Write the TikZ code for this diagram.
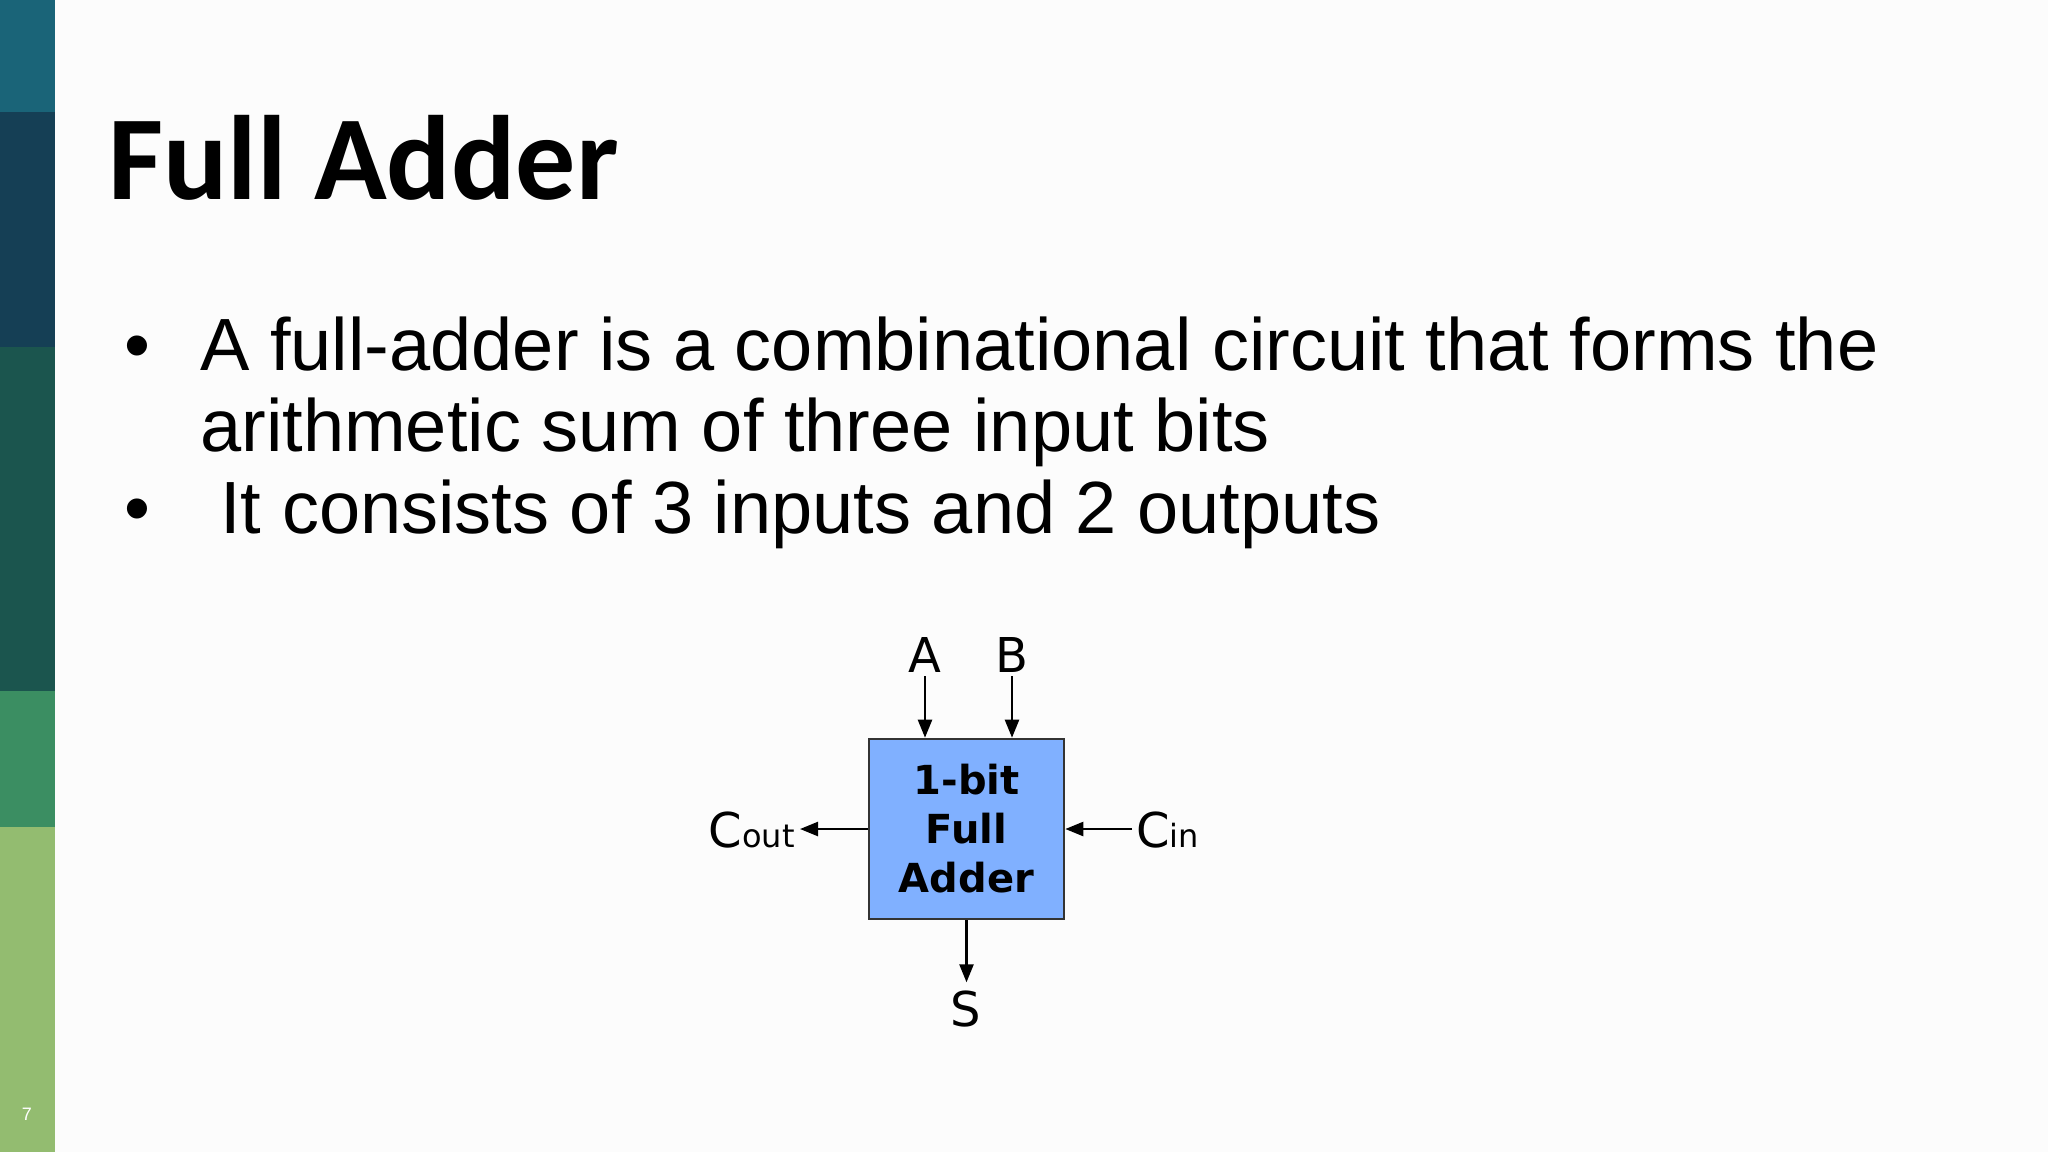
\documentclass[tikz,border=0pt]{standalone}
\usepackage{fontspec}
\setmainfont{Liberation Sans}
\newfontfamily\titlefont{Carlito}
\newfontfamily\dvs{DejaVu Sans}
\usetikzlibrary{arrows.meta}
\definecolor{bandA}{HTML}{1A6478}
\definecolor{bandB}{HTML}{153F55}
\definecolor{bandC}{HTML}{1B554E}
\definecolor{bandD}{HTML}{3B8E62}
\definecolor{bandE}{HTML}{93BC70}
\definecolor{boxblue}{HTML}{80B0FF}
\begin{document}
\begin{tikzpicture}[x=0.5pt,y=-0.5pt,
  txt/.style={inner sep=0pt,anchor=base west,font=\fontsize{37}{44}\selectfont},
  lbl/.style={inner sep=0pt,font=\dvs\fontsize{24}{28}\selectfont},
  wire/.style={line width=1.2pt,-{Triangle[length=9pt,width=7pt]}}]
\useasboundingbox (0,0) rectangle (2048,1152);
\fill[white!98!gray] (0,0) rectangle (2048,1152);
\fill[bandA] (0,0) rectangle (55,112);
\fill[bandB] (0,112) rectangle (55,347);
\fill[bandC] (0,347) rectangle (55,691);
\fill[bandD] (0,691) rectangle (55,827);
\fill[bandE] (0,827) rectangle (55,1152);
\node[text=white,inner sep=0pt,font=\fontsize{9}{10}\selectfont] (pg) at (27,1114) {7};
\node[inner sep=0pt,anchor=base west,font=\titlefont\bfseries\fontsize{60}{70}\selectfont] (title) at (108,199) {Full Adder};
\node[txt] (b1) at (124,370) {\textbullet};
\node[txt] (t1) at (200,370) {A full-adder is a combinational circuit that forms the};
\node[txt] (t2) at (200,451) {arithmetic sum of three input bits};
\node[txt] (b2) at (124,533) {\textbullet};
\node[txt] (t3) at (220,533) {It consists of 3 inputs and 2 outputs};
% diagram
\node[draw=black!80,line width=1.3pt,fill=boxblue,minimum width=97.5pt,minimum height=90pt,inner sep=0pt,
  align=center,font=\dvs\bfseries\fontsize{20}{24.5}\selectfont] (fa) at (966.5,829) {1-bit\\Full\\Adder};
\node[lbl,anchor=base] (A) at (925,672) {A};
\node[lbl,anchor=base] (B) at (1012,672) {B};
\node[lbl,anchor=base] (S) at (966,1026) {S};
\node[lbl,anchor=base east] (cout) at (795,847) {C{\fontsize{16}{18}\selectfont out}};
\node[lbl,anchor=base west] (cin) at (1136,847) {C{\fontsize{16}{18}\selectfont in}};
\coordinate (ta) at (925,676);
\coordinate (tb) at (1012,676);
\draw[wire] (ta) -- (ta |- fa.north);
\draw[wire] (tb) -- (tb |- fa.north);
\draw[wire] (fa.south) -- ++(0,62) coordinate (se);
\draw[wire] (fa.west) -- (800,829) coordinate (ce);
\draw[wire] (1132,829) coordinate (cs) -- (fa.east);
\end{tikzpicture}
\end{document}
